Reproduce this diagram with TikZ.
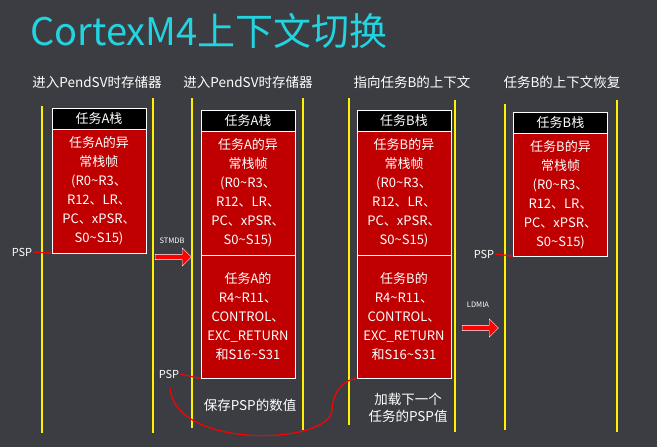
\documentclass[tikz,border=0pt]{standalone}
\usepackage{fontspec}
\setmainfont{Noto Sans CJK SC}
\usetikzlibrary{shapes.arrows,arrows.meta}
\definecolor{bg}{HTML}{3C3D42}
\definecolor{stk}{HTML}{C00000}
\definecolor{ttl}{HTML}{22D3E0}
\begin{document}
\begin{tikzpicture}[x=1pt,y=-1pt,
  lane/.style={yellow,line width=1.6pt},
  hdr/.style={draw=white,fill=black,text=white,minimum width=94pt,minimum height=21pt,inner sep=0pt,font=\fontsize{13}{14}\selectfont},
  frame/.style={draw=white,fill=stk,text=white,minimum width=94pt,inner sep=0pt,align=center,font=\fontsize{13}{19}\selectfont},
  lbl/.style={text=white,font=\fontsize{13.5}{17}\selectfont,align=center},
  psp/.style={text=white,font=\fontsize{11}{12}\selectfont,inner sep=1pt},
  pa/.style={red,line width=1.2pt,-{Stealth[length=4pt]}},
  big/.style={single arrow,draw=white,fill=red,minimum height=36pt,minimum width=18pt,single arrow head extend=3pt,inner sep=1pt},
  small/.style={text=white,font=\fontsize{7.5}{8}\selectfont}]
\fill[bg] (0,0) rectangle (657,447);
\useasboundingbox (0,0) rectangle (657,447);
\node[anchor=west,text=ttl,font=\fontsize{38}{40}\selectfont,inner sep=0pt] (title) at (30,31) {CortexM4上下文切换};
\node[lbl] (h1) at (97,82) {进入PendSV时存储器};
\node[lbl] (h2) at (248,82) {进入PendSV时存储器};
\node[lbl] (h3) at (412,82) {指向任务B的上下文};
\node[lbl] (h4) at (562,82) {任务B的上下文恢复};
\foreach \x/\a/\b in {42/106/433,153/98/433,192/98/428,303/98/430,349/98/425,455/100/432,505/104/430,617/100/432}
  \draw[lane] (\x,\a) -- (\x,\b);
% column 1
\node[hdr] (s1h) at (99,118.5) {任务A栈};
\node[frame,minimum height=124pt] (s1a) at (99,191) {任务A的异\\常栈帧\\(R0\textasciitilde R3、\\R12、LR、\\PC、xPSR、\\S0\textasciitilde S15)};
% column 2
\node[hdr] (s2h) at (248,120.5) {任务A栈};
\node[frame,minimum height=124pt] (s2a) at (248,193) {任务A的异\\常栈帧\\(R0\textasciitilde R3、\\R12、LR、\\PC、xPSR、\\S0\textasciitilde S15)};
\node[frame,minimum height=123pt,anchor=north] (s2b) at (s2a.south) {任务A的\\R4\textasciitilde R11、\\CONTROL、\\EXC\_RETURN\\和S16\textasciitilde S31};
% column 3
\node[hdr] (s3h) at (404,120.5) {任务B栈};
\node[frame,minimum height=124pt] (s3a) at (404,193) {任务B的异\\常栈帧\\(R0\textasciitilde R3、\\R12、LR、\\PC、xPSR、\\S0\textasciitilde S15)};
\node[frame,minimum height=123pt,anchor=north] (s3b) at (s3a.south) {任务B的\\R4\textasciitilde R11、\\CONTROL、\\EXC\_RETURN\\和S16\textasciitilde S31};
% column 4
\node[hdr] (s4h) at (560.5,122.5) {任务B栈};
\node[frame,minimum height=123pt] (s4a) at (560.5,194.5) {任务B的异\\常栈帧\\(R0\textasciitilde R3、\\R12、LR、\\PC、xPSR、\\S0\textasciitilde S15)};
% PSP pointers
\node[psp] (p1) at (22,252) {PSP};
\draw[pa] (p1.east) -- (s1a.south west);
\node[psp] (p2) at (169,374) {PSP};
\draw[pa] (p2.east) -- (s2b.south west);
\node[psp] (p4) at (484,254) {PSP};
\draw[pa] (p4.east) -- (s4a.south west);
% transitions
\node[small] (stm) at (172,241) {STMDB};
\node[big] (a1) at (172,257) {};
\node[small] (ldm) at (478,305) {LDMIA};
\node[big] (a2) at (479,328) {};
% notes
\node[lbl] (n1) at (250,405) {保存PSP的数值};
\node[lbl] (n2) at (408,408) {加载下一个\\任务的PSP值};
\coordinate (c1) at (170,388);
\draw[red,line width=1.2pt,-{Stealth[length=4pt]}] (c1) .. controls (175,450) and (330,445) .. (332,410) .. controls (333,390) and (345,380) .. (s3b.south west);
\end{tikzpicture}
\end{document}
